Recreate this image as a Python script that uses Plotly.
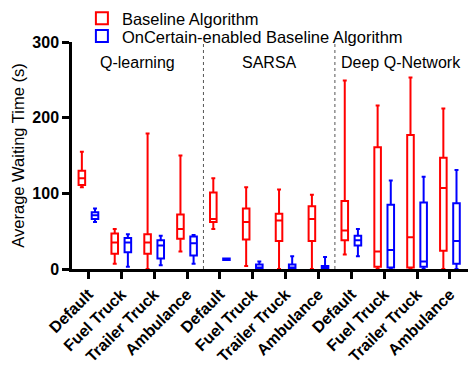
import plotly.graph_objects as go

categories = ["Default", "Fuel Truck", "Trailer Truck", "Ambulance"] * 3
groups = ["Q-learning", "SARSA", "Deep Q-Network"]
series_names = ["Baseline Algorithm", "OnCertain-enabled Baseline Algorithm"]

base_lower = [108, 7, 0, 23, 53, 4, 0, 0, 19, 0, 0, 0]
base_q1 = [111, 20, 20, 40, 62, 39, 37, 37, 38, 3, 2, 24]
base_median = [120, 35, 35, 53, 66, 62, 64, 66, 51, 23, 42, 107]
base_q3 = [130, 47, 46, 72, 101, 80, 73, 83, 90, 161, 177, 147]
base_upper = [155, 53, 179, 150, 120, 108, 105, 98, 249, 216, 253, 212]

onc_lower = [62, 3, 5, 7, 12, 0, 0, 0, 17, 0, 0, 0]
onc_q1 = [66, 22, 14, 18, 12, 0, 0, 0, 31, 2, 3, 7]
onc_median = [71, 35, 31, 34, 13, 2, 2, 1, 38, 25, 10, 37]
onc_q3 = [75, 41, 38, 43, 14, 6, 6, 4, 44, 85, 88, 87]
onc_upper = [80, 46, 44, 45, 14, 10, 17, 16, 53, 117, 122, 131]

yticks = [0, 100, 200, 300]

RED = "#FF0000"
BLUE = "#0000FF"
FONT = "Arial, Liberation Sans, sans-serif"

idx = list(range(len(categories)))
off = 0.2
bw = 0.2

fig = go.Figure()
fig.add_trace(go.Box(
    name=series_names[0], legend="legend2", showlegend=True,
    x=[i - off for i in idx],
    lowerfence=base_lower, q1=base_q1, median=base_median, q3=base_q3,
    upperfence=base_upper,
    width=bw, whiskerwidth=0.6,
    line=dict(color=RED, width=2), fillcolor="white",
    boxpoints=False,
))
fig.add_trace(go.Box(
    name=series_names[1], legend="legend3", showlegend=True,
    x=[i + off for i in idx],
    lowerfence=onc_lower, q1=onc_q1, median=onc_median, q3=onc_q3,
    upperfence=onc_upper,
    width=bw, whiskerwidth=0.6,
    line=dict(color=BLUE, width=2), fillcolor="white",
    boxpoints=False,
))

# dashed separators between groups
for k in range(1, len(groups)):
    fig.add_shape(type="line", xref="x", yref="y",
                  x0=4 * k - 0.5, x1=4 * k - 0.5, y0=0, y1=300,
                  line=dict(color="#555555", width=1, dash="dot"))

for k, g in enumerate(groups):
    fig.add_annotation(x=4 * k + 1.5, y=273, xref="x", yref="y",
                       text=g, showarrow=False,
                       font=dict(family=FONT, size=16, color="black"))

legend_common = dict(xanchor="left", yanchor="top",
                     font=dict(family=FONT, size=16.5, color="black"),
                     bgcolor="rgba(0,0,0,0)")

fig.update_layout(
    width=474, height=370,
    margin=dict(l=72, r=6, t=42, b=101, autoexpand=False),
    plot_bgcolor="white", paper_bgcolor="white",
    boxmode="overlay",
    font=dict(family=FONT, color="black"),
    legend2=dict(x=0.025, y=1.18, **legend_common),
    legend3=dict(x=0.025, y=1.102, **legend_common),
    xaxis=dict(
        range=[-0.5, 11.55], automargin=False,
        tickmode="array", tickvals=idx, ticktext=categories,
        tickangle=-45,
        tickfont=dict(family=FONT, size=16, color="black", weight="bold"),
        showline=True, linewidth=2.5, linecolor="black",
        ticks="outside", ticklen=7, tickwidth=2.5, tickcolor="black",
        showgrid=False, zeroline=False,
    ),
    yaxis=dict(
        range=[0, 300], automargin=False,
        tickmode="array", tickvals=yticks,
        tickfont=dict(family=FONT, size=16, color="black", weight="bold"),
        title=dict(text="Average Waiting Time (s)",
                   font=dict(family=FONT, size=16.5, color="black"), standoff=4),
        showline=True, linewidth=2.5, linecolor="black",
        ticks="outside", ticklen=7, tickwidth=2.5, tickcolor="black",
        showgrid=False, zeroline=False,
    ),
)

fig.write_html("out.html", config={"displayModeBar": False},
               post_script="document.body.style.margin='0';")
